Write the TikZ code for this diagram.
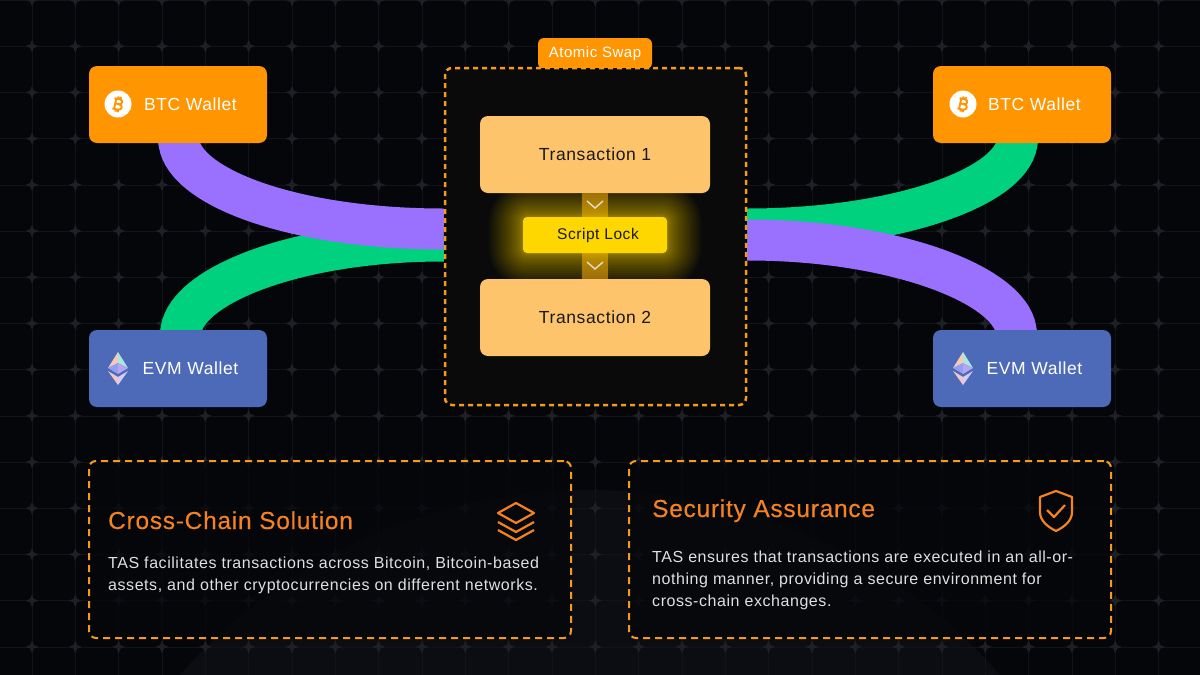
\documentclass[tikz,border=0pt]{standalone}
\usepackage{fontspec}
\setmainfont[LetterSpace=3.5]{Liberation Sans}
\newfontfamily\titlefont[LetterSpace=3,FakeBold=.25]{Liberation Sans}
\usetikzlibrary{positioning,calc}
\pgfdeclarelayer{gridlayer}
\pgfdeclarelayer{bandlayer}
\pgfsetlayers{gridlayer,bandlayer,main}
\definecolor{pagebg}{HTML}{05060A}
\definecolor{gridline}{HTML}{121319}
\definecolor{gridmarkc}{HTML}{1F2026}
\definecolor{amber}{HTML}{FF9500}
\definecolor{dashc}{HTML}{F59A1C}
\definecolor{bandpurple}{HTML}{9A70FF}
\definecolor{bandgreen}{HTML}{00D17E}
\definecolor{evmblue}{HTML}{4C6AB8}
\definecolor{txc}{HTML}{FEC46C}
\definecolor{lockc}{HTML}{FFD700}
\definecolor{stripc}{HTML}{8E5F10}
\definecolor{titlec}{HTML}{F58220}
\definecolor{plA}{HTML}{44464E}
\definecolor{plB}{HTML}{34363E}
\definecolor{plC}{HTML}{22242C}
\definecolor{plD}{HTML}{14161C}
\definecolor{plE}{HTML}{0C0D12}
\definecolor{ethA}{HTML}{F6C9B4}
\definecolor{ethB}{HTML}{A9E8DC}
\definecolor{ethC}{HTML}{8F9FF5}
\definecolor{ethD}{HTML}{B7A5F2}
\definecolor{ethE}{HTML}{F3C6C4}
\definecolor{ethF}{HTML}{D5CDF5}
\pgfdeclareradialshading{planet}{\pgfpoint{0bp}{0bp}}{color(0bp)=(plE); color(30bp)=(plE); color(43bp)=(plD); color(47bp)=(plC); color(49bp)=(plB); color(50bp)=(plA)}
\tikzset{
wallet/.style={rectangle, fill=#1, text=white, rounded corners=8pt, minimum width=178pt, minimum height=77pt, inner sep=0pt, font=\fontsize{17.5}{21}\selectfont},
txbox/.style={rectangle, fill=txc, text=black!90, rounded corners=8pt, minimum width=230pt, minimum height=77pt, inner sep=0pt, font=\fontsize{17.5}{21}\selectfont},
panel/.style={rectangle, draw=dashc, fill=pagebg, fill opacity=.7, line width=2pt, dash pattern=on 7pt off 5pt, rounded corners=7pt, minimum width=482pt, minimum height=177pt, inner sep=0pt},
titletext/.style={anchor=base west, text=titlec, inner sep=0pt, font=\titlefont\fontsize{24.5}{28}\selectfont},
bodytext/.style={anchor=west, align=left, text=white!88!black, inner sep=0pt, font=\fontsize{16}{22}\selectfont},
band/.style={draw=#1, line width=41pt},
chevron/.style={draw=white!75!stripc, line width=1.5pt},
icon/.style={draw=titlec, line width=2.2pt, line join=round},
gridmark/.pic={\fill [gridmarkc] (0,-6.5) -- (1.8,-1.8) -- (6.5,0) -- (1.8,1.8) -- (0,6.5) -- (-1.8,1.8) -- (-6.5,0) -- (-1.8,-1.8) -- cycle;},
btcicon/.pic={
    \draw [amber, line width=1.9pt, rotate=-12] (-4.5,-5) -- (1,-5) .. controls (4.5,-5) and (4.5,0) .. (1,0) -- (-3,0)
        (1,0) .. controls (5.5,0) and (5.5,5.5) .. (1,5.5) -- (-4.5,5.5) (-2.8,-5) -- (-2.8,5.5)
        (-1,-7.5) -- (-1,-5) (1.5,-7.5) -- (1.5,-5) (-1,5.5) -- (-1,8) (1.5,5.5) -- (1.5,8);},
ethicon/.pic={
    \fill [ethA] (0,-16) -- (-10,0) -- (0,-5) -- cycle;
    \fill [ethB] (0,-16) -- (10,0) -- (0,-5) -- cycle;
    \fill [ethC] (0,-5) -- (-10,0) -- (0,6) -- cycle;
    \fill [ethD] (0,-5) -- (10,0) -- (0,6) -- cycle;
    \fill [ethE] (-10,3) -- (0,9) -- (0,17) -- cycle;
    \fill [ethF] (10,3) -- (0,9) -- (0,17) -- cycle;}
}

\begin{document}
\begin{tikzpicture}[x=1pt, y=-1pt, node distance=264pt]
    \useasboundingbox (0,0) rectangle (1200,675);
    % Background
    \begin{pgfonlayer}{gridlayer}
        \fill [pagebg] (0,0) rectangle (1200,675);
        \clip (0,0) rectangle (1200,675);
        \shade [shading=planet] (590,1037) circle [radius=547];
        \foreach \gx in {0,...,26}
            \draw [gridline] ({32+43.33*\gx},0) -- ({32+43.33*\gx},675);
        \foreach \gy in {0,...,14}
            \draw [gridline] (0,{46.2*\gy}) -- (1200,{46.2*\gy});
        \foreach \gx in {0,...,26}
            \foreach \gy in {0,...,14}
                \pic at ({32+43.33*\gx},{46.2*\gy}) {gridmark};
    \end{pgfonlayer}
    % Place nodes
    \node [wallet=amber] (btcl) at (178,104.5) {\hspace*{25pt}BTC Wallet};
    \node [wallet=evmblue, below of=btcl] (evml) {\hspace*{25pt}EVM Wallet};
    \node [wallet=amber, right of=btcl, xshift=580pt] (btcr) {\hspace*{25pt}BTC Wallet};
    \node [wallet=evmblue, below of=btcr] (evmr) {\hspace*{25pt}EVM Wallet};
    \node [circle, fill=white, minimum size=27pt, inner sep=0pt] (btclicon) at (118,104) {};
    \node [circle, fill=white, minimum size=27pt, inner sep=0pt, right of=btclicon, xshift=581pt] (btcricon) {};
    \pic at (btclicon) {btcicon};
    \pic at (btcricon) {btcicon};
    \pic at (118,368) {ethicon};
    \pic at (963,368) {ethicon};
    \fill [amber, rounded corners=6pt] (538,69) -- (538,38) -- (652,38) -- (652,69) -- cycle;
    \node [text=white, inner sep=0pt, font=\fontsize{15}{18}\selectfont] (swaplabel) at (595,53.5) {Atomic Swap};
    \node [rectangle, draw=dashc, fill=black!96!white, line width=2.5pt, dash pattern=on 5pt off 4pt, rounded corners=7pt, minimum width=301pt, minimum height=337pt, inner sep=0pt] (swap) at (595.5,236.5) {};
    \node [txbox] (txone) at (595,154.5) {Transaction 1};
    \node [txbox, below of=txone, node distance=163pt] (txtwo) {Transaction 2};
    \coordinate (lockmid) at (595,235);
    % Draw edges
    \path [draw=stripc, line width=26pt] (txone) -- (txtwo);
    \begin{scope}
        \clip (swap.west |- txone.south) rectangle (swap.east |- txtwo.north);
        \foreach \k [evaluate=\k as \g using {34*(\k/30)^2}] in {1,...,30}
            \fill [lockc, opacity=.03, rounded corners={(\g+5)*1pt}] ($(lockmid)+({-72-\g},{-18-\g})$) rectangle ($(lockmid)+({72+\g},{18+\g})$);
    \end{scope}
    \draw [chevron] (587,201) -- (595,208) -- (603,201);
    \draw [chevron] (587,262) -- (595,269) -- (603,262);
    \node [rectangle, fill=lockc, text=black!90, rounded corners=4pt, minimum width=144pt, minimum height=36pt, inner sep=0pt, font=\fontsize{15.5}{18}\selectfont] (lock) at (lockmid) {\hspace*{6pt}\raisebox{-1.5pt}{Script Lock}};
    \begin{pgfonlayer}{bandlayer}
        \path [band=bandgreen] ($(evml.north)+(2,6)$) -- ($(evml.north)+(3,0)$) .. controls (188,285) and (297,241) .. ($(swap.west)+(0,4.5)$);
        \path [band=bandpurple] ($(btcl.south)+(0,-6)$) -- ($(btcl.south)+(1,0)$) .. controls (186,188) and (295,229) .. ($(swap.west)+(0,-7.5)$);
        \path [band=bandgreen] ($(btcr.south)+(-4,-6)$) -- ($(btcr.south)+(-5,0)$) .. controls (1010,188) and (895,229) .. ($(swap.east)+(0,-7.5)$);
        \path [band=bandpurple] ($(evmr.north)+(-5,6)$) -- ($(evmr.north)+(-6,0)$) .. controls (1009,285) and (895,240) .. ($(swap.east)+(0,3.5)$);
    \end{pgfonlayer}
    % Lower panels
    \node [panel] (crossbox) at (330,549.5) {};
    \node [panel] (securebox) at (870,549.5) {};
    \node [titletext] (crosstitle) at (108,529) {Cross-Chain Solution};
    \node [titletext] (securetitle) at (652,517) {Security Assurance};
    \node [bodytext] (crossbody) at (108,575) {TAS facilitates transactions across Bitcoin, Bitcoin-based\\assets, and other cryptocurrencies on different networks.};
    \node [bodytext] (securebody) at (652,580) {TAS ensures that transactions are executed in an all-or-\\nothing manner, providing a secure environment for\\cross-chain exchanges.};
    \draw [icon] (516,503) -- (534,513) -- (516,523) -- (498,513) -- cycle;
    \draw [icon] (498,522) -- (516,532) -- (534,522);
    \draw [icon] (498,530) -- (516,540) -- (534,530);
    \draw [icon] (1056,491) -- (1072,497) -- (1072,512) .. controls (1072,521) and (1064,527) .. (1056,531) .. controls (1048,527) and (1040,521) .. (1040,512) -- (1040,497) -- cycle;
    \draw [icon] (1047,510) -- (1054,517) -- (1065,505);
\end{tikzpicture}
\end{document}
